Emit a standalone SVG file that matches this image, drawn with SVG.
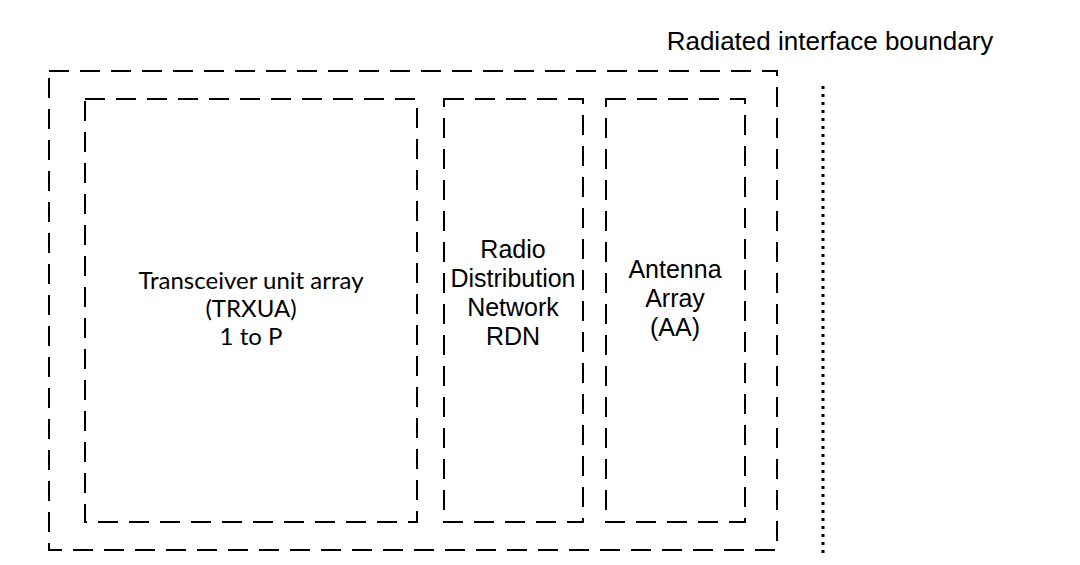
<svg xmlns="http://www.w3.org/2000/svg" width="1080" height="565" viewBox="0 0 1080 565">
<style>
.box{fill:none;stroke:#000;stroke-width:2;stroke-dasharray:20 11}
.dot{fill:none;stroke:#000;stroke-width:3;stroke-dasharray:3 5}
.cal{font-family:Lato,"Open Sans",sans-serif;font-size:24px;fill:#000;text-anchor:middle}
.ar{font-family:"Liberation Sans",Arial,sans-serif;font-size:25px;fill:#000;text-anchor:middle}
.ttl{font-family:"Liberation Sans",Arial,sans-serif;font-size:26px;fill:#000;text-anchor:middle}
</style>
<rect width="1080" height="565" fill="#fff"/>
<g id="outer"><rect class="box" x="49" y="71" width="728" height="479"/></g>
<g id="trxua">
<rect class="box" x="85" y="99" width="332" height="423"/>
<text class="cal" x="251" y="289">Transceiver unit array</text>
<text class="cal" x="251" y="317">(TRXUA)</text>
<text class="cal" x="251" y="345">1 to P</text>
</g>
<g id="rdn">
<rect class="box" x="444" y="99" width="139" height="423"/>
<text class="ar" x="513" y="258">Radio</text>
<text class="ar" x="513" y="287">Distribution</text>
<text class="ar" x="513" y="316">Network</text>
<text class="ar" x="513" y="345">RDN</text>
</g>
<g id="aa">
<rect class="box" x="606" y="99" width="139" height="423"/>
<text class="ar" x="675" y="278">Antenna</text>
<text class="ar" x="675" y="307">Array</text>
<text class="ar" x="675" y="336">(AA)</text>
</g>
<g id="boundary">
<line class="dot" x1="823" y1="86" x2="823" y2="556"/>
<text class="ttl" x="830" y="50">Radiated interface boundary</text>
</g>
<g id="connectors"></g>
</svg>
